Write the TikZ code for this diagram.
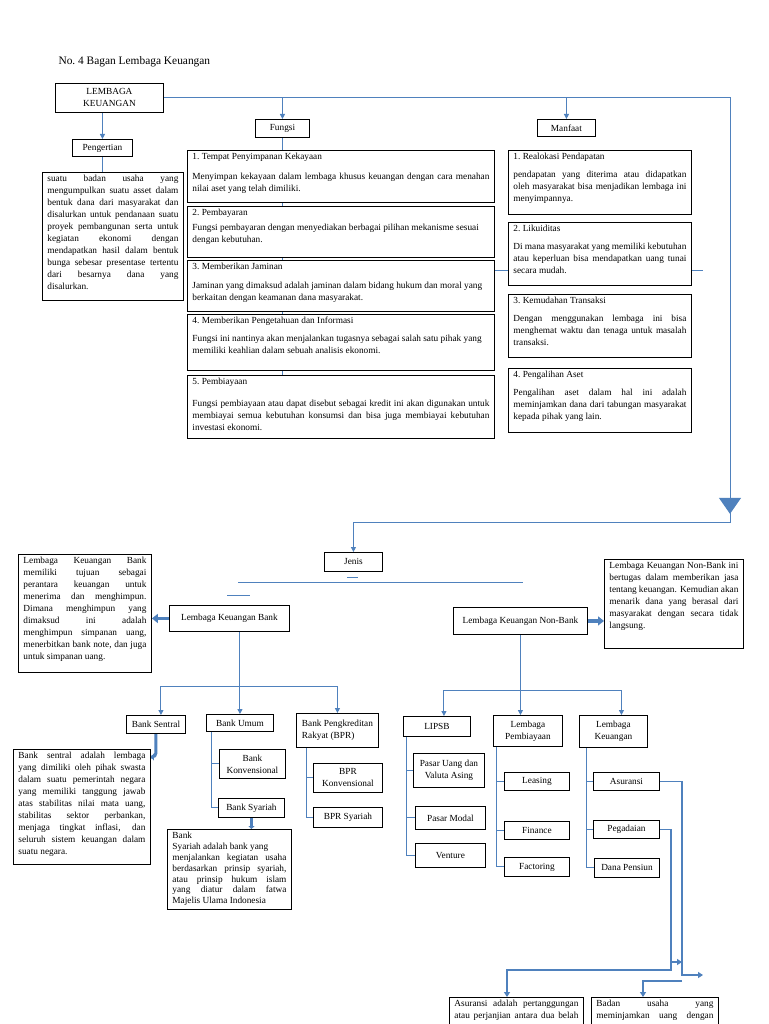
\documentclass[tikz,border=0pt]{standalone}
\usepackage{fontspec}
\setmainfont{Liberation Serif}
\usetikzlibrary{arrows.meta,backgrounds,decorations.markings}

\definecolor{linkblue}{RGB}{79,129,189}

\newcommand{\jline}[1]{\makebox[\linewidth][s]{#1}\par}
\newcommand{\boxtext}[3]{\parbox[c][\dimexpr#2pt-6pt\relax][t]{\dimexpr#1pt-10pt\relax}{#3}}

\begin{document}
\begin{tikzpicture}[x=1pt, y=-1pt, wh/.style 2 args={minimum width=#1pt, minimum height=#2pt}]
    \tikzstyle{every node}=[font=\fontsize{9.3}{12}\selectfont]
    \tikzstyle{box}=[draw, fill=white, line width=0.9pt, inner sep=1pt, align=center, anchor=north west]
    \tikzstyle{textbox}=[draw, fill=white, line width=0.9pt, inner xsep=5pt, inner ysep=3pt, anchor=north west]
    \tikzstyle{link}=[draw=linkblue, line width=1pt]
    \tikzstyle{arrowlink}=[link, -{Triangle[width=5pt,length=5pt]}]
    \tikzstyle{thicklink}=[draw=linkblue, line width=3.5pt, -{Triangle[width=9pt,length=6pt]}]
    \tikzstyle{widelink}=[draw=linkblue, line width=1.6pt, -{Triangle[width=6pt,length=5pt]}]
    \useasboundingbox (0,0) rectangle (768,1024);
    \clip (0,0) rectangle (768,1024);

    \node[anchor=west, font=\fontsize{11.4}{14}\selectfont] (title) at (55,62) {No.\ 4 Bagan Lembaga Keuangan};

    \node[box, wh={108}{29}] (lemb) at (55,83) {LEMBAGA\\KEUANGAN};
    \node[box, wh={60}{17}] (peng) at (72,139) {Pengertian};
    \node[box, wh={54}{18}] (fungsi) at (255,119) {Fungsi};
    \node[box, wh={58}{17}] (manfaat) at (537,119) {Manfaat};

    \node[textbox] (pengText) at (42,172) {\boxtext{141}{128}{\jline{suatu badan usaha yang}\jline{mengumpulkan suatu asset dalam}\jline{bentuk dana dari masyarakat dan}\jline{disalurkan untuk pendanaan suatu}\jline{proyek pembangunan serta untuk}\jline{kegiatan ekonomi dengan}\jline{mendapatkan hasil dalam bentuk}\jline{bunga sebesar presentase tertentu}\jline{dari besarnya dana yang}disalurkan.}};

    \node[textbox] (f1) at (187,150) {\boxtext{307}{52}{1.\ Tempat Penyimpanan Kekayaan\par\vspace{8pt}\jline{Menyimpan kekayaan dalam lembaga khusus keuangan dengan cara menahan}nilai aset yang telah dimiliki.}};
    \node[textbox] (f2) at (187,206) {\boxtext{307}{51}{2.\ Pembayaran\par\vspace{3pt}Fungsi pembayaran dengan menyediakan berbagai pilihan mekanisme sesuai\par dengan kebutuhan.}};
    \node[textbox] (f3) at (187,260) {\boxtext{307}{51}{3.\ Memberikan Jaminan\par\vspace{7pt}Jaminan yang dimaksud adalah jaminan dalam bidang hukum dan moral yang\par berkaitan dengan keamanan dana masyarakat.}};
    \node[textbox] (f4) at (187,314) {\boxtext{307}{56}{4.\ Memberikan Pengetahuan dan Informasi\par\vspace{5pt}Fungsi ini nantinya akan menjalankan tugasnya sebagai salah satu pihak yang\par memiliki keahlian dalam sebuah analisis ekonomi.}};
    \node[textbox] (f5) at (187,375) {\boxtext{307}{63}{5.\ Pembiayaan\par\vspace{10pt}\jline{Fungsi pembiayaan atau dapat disebut sebagai kredit ini akan digunakan untuk}\jline{membiayai semua kebutuhan konsumsi dan bisa juga membiayai kebutuhan}investasi ekonomi.}};

    \node[textbox] (m1) at (508,150) {\boxtext{183}{64}{1.\ Realokasi Pendapatan\par\vspace{6pt}\jline{pendapatan yang diterima atau didapatkan}\jline{oleh masyarakat bisa menjadikan lembaga ini}menyimpannya.}};
    \node[textbox] (m2) at (508,222) {\boxtext{183}{63}{2.\ Likuiditas\par\vspace{6pt}\jline{Di mana masyarakat yang memiliki kebutuhan}\jline{atau keperluan bisa mendapatkan uang tunai}secara mudah.}};
    \node[textbox] (m3) at (508,294) {\boxtext{183}{63}{3.\ Kemudahan Transaksi\par\vspace{6pt}\jline{Dengan menggunakan lembaga ini bisa}\jline{menghemat waktu dan tenaga untuk masalah}transaksi.}};
    \node[textbox] (m4) at (508,368) {\boxtext{183}{64}{4.\ Pengalihan Aset\par\vspace{6pt}\jline{Pengalihan aset dalam hal ini adalah}\jline{meminjamkan dana dari tabungan masyarakat}kepada pihak yang lain.}};

    \node[box, wh={58}{19}] (jenis) at (324,552) {Jenis};
    \node[box, wh={120}{26}] (bank) at (169,605) {Lembaga Keuangan Bank};
    \node[textbox] (bankText) at (18,554) {\boxtext{133}{118}{\jline{Lembaga Keuangan Bank}\jline{memiliki tujuan sebagai}\jline{perantara keuangan untuk}\jline{menerima dan menghimpun.}\jline{Dimana menghimpun yang}\jline{dimaksud ini adalah}\jline{menghimpun simpanan uang,}\jline{menerbitkan bank note, dan juga}untuk simpanan uang.}};
    \node[box, wh={134}{27}] (nonbank) at (453,607) {Lembaga Keuangan Non-Bank};
    \node[textbox] (nonbankText) at (604,559) {\boxtext{139}{89}{\jline{Lembaga Keuangan Non-Bank ini}\jline{bertugas dalam memberikan jasa}\jline{tentang keuangan. Kemudian akan}\jline{menarik dana yang berasal dari}\jline{masyarakat dengan secara tidak}langsung.}};

    \node[box, wh={59}{18}] (sentral) at (126,715) {Bank Sentral};
    \node[box, wh={67}{17}] (umum) at (206,714) {Bank Umum};
    \node[box, wh={82}{34}, align=left] (bpr) at (296,713) {Bank Pengkreditan\\Rakyat (BPR)};
    \node[box, wh={66}{29}] (konv) at (219,749) {Bank\\Konvensional};
    \node[box, wh={66}{19}] (bsyariah) at (218,798) {Bank Syariah};
    \node[box, wh={69}{29}] (bprkonv) at (313,763) {BPR\\Konvensional};
    \node[box, wh={69}{20}] (bprsyariah) at (313,807) {BPR Syariah};
    \node[textbox] (sentralText) at (13,749) {\boxtext{137}{115}{\jline{Bank sentral adalah lembaga}\jline{yang dimiliki oleh pihak swasta}\jline{dalam suatu pemerintah negara}\jline{yang memiliki tanggung jawab}\jline{atas stabilitas nilai mata uang,}\jline{stabilitas sektor perbankan,}\jline{menjaga tingkat inflasi, dan}\jline{seluruh sistem keuangan dalam}suatu negara.}};
    \node[textbox] (syariahText) at (167,829) {\boxtext{124}{80}{\fontsize{9.3}{10.8}\selectfont Bank\par Syariah adalah bank yang\par\jline{menjalankan kegiatan usaha}\jline{berdasarkan prinsip syariah,}\jline{atau prinsip hukum islam}\jline{yang diatur dalam fatwa}Majelis Ulama Indonesia}};

    \node[box, wh={67}{20}] (lipsb) at (403,716) {LIPSB};
    \node[box, wh={69}{31}] (pemb) at (493,715) {Lembaga\\Pembiayaan};
    \node[box, wh={68}{32}] (lk) at (579,715) {Lembaga\\Keuangan};
    \node[box, wh={71}{34}] (pasaruang) at (413,753) {Pasar Uang dan\\Valuta Asing};
    \node[box, wh={70}{23}] (pasarmodal) at (415,806) {Pasar Modal};
    \node[box, wh={70}{24}] (venture) at (415,843) {Venture};
    \node[box, wh={65}{18}] (leasing) at (504,772) {Leasing};
    \node[box, wh={65}{18}] (finance) at (504,821) {Finance};
    \node[box, wh={65}{19}] (factoring) at (504,857) {Factoring};
    \node[box, wh={66}{18}] (asuransi) at (593,772) {Asuransi};
    \node[box, wh={66}{18}] (pegadaian) at (593,820) {Pegadaian};
    \node[box, wh={65}{19}] (danapensiun) at (594,858) {Dana Pensiun};

    \node[textbox] (asurText) at (449,997) {\boxtext{134}{50}{\jline{Asuransi adalah pertanggungan}\jline{atau perjanjian antara dua belah}}};
    \node[textbox] (badanText) at (591,997) {\boxtext{127}{50}{\jline{Badan usaha yang}\jline{meminjamkan uang dengan}}};

    \coordinate (rt) at (730,522);
    \coordinate (mid) at (703,270);
    \coordinate (bj) at (0,686);
    \coordinate (nj) at (0,690);
    \coordinate (sentralIn) at ([xshift=5pt]sentral.north);
    \coordinate (lipsbIn) at ([xshift=7pt]lipsb.north);
    \coordinate (lkIn) at ([xshift=8pt]lk.north);
    \coordinate (asurDown) at (682,975);
    \coordinate (asurEnd) at (703,975);
    \coordinate (pegDown) at (671,970);
    \coordinate (badanIn) at ([xshift=52pt]badanText.north west);
    \coordinate (asurIn) at ([xshift=58pt]asurText.north west);

    \begin{scope}[on background layer]
        \fill[white] (0,0) rectangle (768,1024);
        \draw[arrowlink, postaction={decorate}, decoration={markings, mark=at position 982pt with {\arrow[linkblue]{Triangle[width=22pt,length=16pt]}}}] (lemb.east) -| (rt) -| (jenis.north);
        \draw[arrowlink] (peng.north |- lemb.south) -- (peng.north);
        \draw[link] (peng.south) -- (peng.south |- pengText.north);
        \draw[arrowlink] (fungsi.north |- lemb.east) -- (fungsi.north);
        \draw[arrowlink] (manfaat.north |- lemb.east) -- (manfaat.north);
        \draw[link] (fungsi.south) -- (fungsi.south |- f5.north);
        \draw[link] (f3.east |- mid) -- (m2.west |- mid);
        \draw[link] (m2.east |- mid) -- (mid);

        \draw[link] ([xshift=-6pt,yshift=-6pt]jenis.south) -- ++(11,0);
        \draw[link] (238,582) -- (523,582);
        \draw[link] (227,595) -- (250,595);

        \draw[thicklink] (bank.west) -- (bank.west -| bankText.east);
        \draw[arrowlink] (umum.north |- bank.south) -- (umum.north);
        \draw[link] (sentralIn |- bj) -- (bpr.north |- bj);
        \draw[arrowlink] (sentralIn |- bj) -- (sentralIn);
        \draw[arrowlink] (bpr.north |- bj) -- (bpr.north);
        \foreach \c in {konv,bsyariah} \draw[link] ([xshift=5pt]umum.south west) |- (\c.west);
        \foreach \c in {bprkonv,bprsyariah} \draw[link] ([xshift=10pt]bpr.south west) |- (\c.west);
        \draw[thicklink, line width=3pt, rounded corners=4pt, -{Triangle[width=7pt,length=3pt]}] (sentral.south) |- ([yshift=-8pt]sentralText.north east);
        \draw[thicklink, line width=2.5pt, -{Triangle[width=6pt,length=3pt]}] (bsyariah.south) -- (bsyariah.south |- syariahText.north);

        \draw[thicklink] (nonbank.east) -- (nonbank.east -| nonbankText.west);
        \draw[arrowlink] (nonbank.south) -- (nonbank.south |- pemb.north);
        \draw[link] (lipsbIn |- nj) -- (lkIn |- nj);
        \draw[arrowlink] (lipsbIn |- nj) -- (lipsbIn);
        \draw[arrowlink] (lkIn |- nj) -- (lkIn);
        \foreach \c in {pasaruang,pasarmodal,venture} \draw[link] ([xshift=3pt]lipsb.south west) |- (\c.west);
        \foreach \c in {leasing,finance,factoring} \draw[link] ([xshift=3pt]pemb.south west) |- (\c.west);
        \foreach \c in {asuransi,pegadaian,danapensiun} \draw[link] ([xshift=7pt]lk.south west) |- (\c.west);

        \draw[widelink] (asuransi.east) -| (asurDown) -- (asurEnd);
        \draw[widelink] ([yshift=-6pt]asurDown) -| (badanIn);
        \draw[widelink] (pegadaian.east) -| (pegDown) -| (asurIn);
        \draw[widelink] ([yshift=8pt]pegDown) -- ++(11,0);
    \end{scope}
\end{tikzpicture}
\end{document}
